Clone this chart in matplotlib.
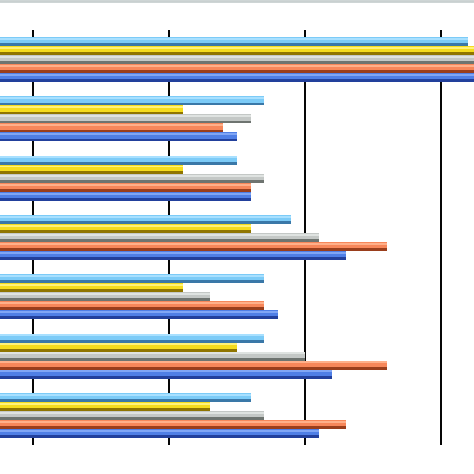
import matplotlib
matplotlib.use("Agg")
import matplotlib.pyplot as plt
import numpy as np

categories = ["G1", "G2", "G3", "G4", "G5", "G6", "G7"]
series_names = ["S1", "S2", "S3", "S4", "S5"]
s1 = [4.2, 2.7, 2.5, 2.9, 2.7, 2.7, 2.6]
s2 = [4.4, 2.1, 2.1, 2.6, 2.1, 2.5, 2.3]
s3 = [4.4, 2.6, 2.7, 3.1, 2.3, 3.0, 2.7]
s4 = [4.4, 2.4, 2.6, 3.6, 2.7, 3.6, 3.3]
s5 = [4.4, 2.5, 2.6, 3.3, 2.8, 3.2, 3.1]
grid_values = [1, 2, 3, 4]

series = [s1, s2, s3, s4, s5]
# (main, dark bottom, light top)
colors = [
    ("#7ccbf7", "#3a78a8", "#a8e0ff"),
    ("#f5dc1e", "#8f7500", "#fff27a"),
    ("#c4c8c6", "#6e7470", "#dfe3e1"),
    ("#f7875a", "#9a3e1c", "#ffb08a"),
    ("#4f7fe6", "#22409c", "#80a6f5"),
]

fig = plt.figure(figsize=(4.74, 4.74), dpi=100)
ax = fig.add_axes([0, 29 / 474, 1, 415 / 474])

n = len(categories)
ns = len(series)
group_h = 0.76
bh = group_h / ns
y = np.arange(n)
for i, (vals, (c, dk, lt)) in enumerate(zip(series, colors)):
    yc = y - group_h / 2 + bh * (i + 0.5)
    ax.barh(yc, vals, height=bh, color=c, zorder=3, linewidth=0)
    # dark lower strip
    ax.barh(yc + bh * 0.34, vals, height=bh * 0.32, color=dk, zorder=4, linewidth=0)
    # light upper strip
    ax.barh(yc - bh * 0.30, vals, height=bh * 0.22, color=lt, zorder=4, linewidth=0)

for g in grid_values:
    ax.axvline(g, color="black", linewidth=1.4, zorder=1)

ax.set_xlim(1 - 33 / 136, 1 + 441 / 136)
ax.set_ylim(n - 0.5, -0.5)
ax.set_xticks([])
ax.set_yticks([])
for sp in ax.spines.values():
    sp.set_visible(False)

fig.add_artist(plt.Line2D([0, 1], [1 - 1 / 474, 1 - 1 / 474], transform=fig.transFigure,
                          color="#c9d0d0", linewidth=2))

fig.savefig("out.png", dpi=100)
